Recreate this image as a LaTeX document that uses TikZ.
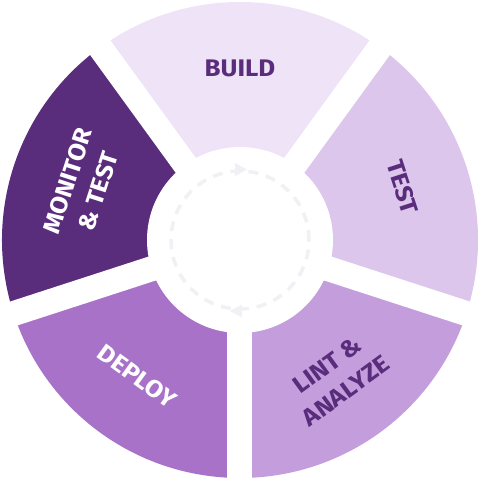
\documentclass[tikz,border=0pt]{standalone}
\usepackage{fontspec}
\newfontfamily\lblfont{Fira Sans}[FakeStretch=1.08]
\definecolor{cBuild}{HTML}{EFE3F7}
\definecolor{cTest}{HTML}{DCC6EC}
\definecolor{cLint}{HTML}{C49EDC}
\definecolor{cDeploy}{HTML}{A872C9}
\definecolor{cMonitor}{HTML}{5A2C7C}
\definecolor{cDark}{HTML}{5A2C7C}
\definecolor{cDash}{HTML}{F1F1F5}
\begin{document}
\begin{tikzpicture}[x=1pt,y=1pt,
  seglabel/.style={font=\lblfont\bfseries\fontsize{24}{32}\selectfont, align=center, inner sep=0pt},
  gapline/.style={white, line width=25pt},
  cyclearrow/.style={fill=cDash, draw=none}]
\useasboundingbox (-240,-240) rectangle (240,240);
\def\R{238}
% segments
\fill[cBuild]   (0,0) -- (54:\R)   arc[start angle=54,  end angle=126, radius=\R] -- cycle;
\fill[cTest]    (0,0) -- (-18:\R)  arc[start angle=-18, end angle=54,  radius=\R] -- cycle;
\fill[cLint]    (0,0) -- (-90:\R)  arc[start angle=-90, end angle=-18, radius=\R] -- cycle;
\fill[cDeploy]  (0,0) -- (-162:\R) arc[start angle=-162,end angle=-90, radius=\R] -- cycle;
\fill[cMonitor] (0,0) -- (126:\R)  arc[start angle=126, end angle=198, radius=\R] -- cycle;
% gaps
\coordinate (c) at (0,0);
\foreach \a in {-90,-18,54,126,198} {
  \draw[gapline] (c) -- (\a:260);
}
\fill[white] (c) circle[radius=93];
% inner dashed cycle
\draw[cDash, line width=3.5pt, dash pattern=on 10pt off 8pt] (c) circle[radius=69];
\fill[cyclearrow] (-5,77) -- (7,70.5) -- (-5,64) -- cycle;
\fill[cyclearrow] (2,-64.5) -- (-10,-71) -- (2,-77.5) -- cycle;
% labels
\node[seglabel, text=cDark] (build) at (90:172) {BUILD};
\node[seglabel, text=cDark, rotate=-72] (test) at (18:171) {TEST};
\node[seglabel, text=cDark, rotate=36] (lint) at (-55:168) {LINT \&\\ANALYZE};
\node[seglabel, text=white, rotate=-36] (deploy) at (-127:171) {DEPLOY};
\node[seglabel, text=white, rotate=72] (monitor) at (161:166) {MONITOR\\\& TEST};
\end{tikzpicture}
\end{document}
